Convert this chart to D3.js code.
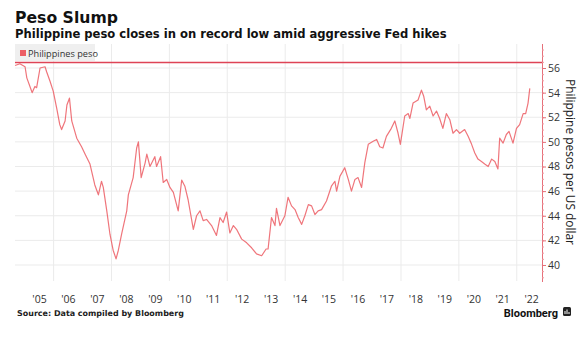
<!DOCTYPE html>
<html lang="en">
<head>
<meta charset="UTF-8">
<title>Peso Slump</title>
<script src="https://d3js.org/d3.v7.min.js"></script>
<style>
  body { margin: 0; background: #fff; }
  svg { display: block; font-family: "Open Sans", "Noto Sans", sans-serif; }
</style>
</head>
<body>
<div id="chart"></div>
<script>
// USD/PHP readings, roughly every month or so
const dates = [
  "2004-09-02","2004-11-01","2005-01-06","2005-01-28","2005-03-20","2005-04-05","2005-05-10","2005-06-01",
  "2005-07-14","2005-09-15","2005-10-05","2005-11-18","2005-12-28","2006-02-10","2006-03-20","2006-04-12",
  "2006-05-26","2006-06-18","2006-07-20","2006-08-18","2006-10-20","2006-12-20","2007-02-03","2007-04-05",
  "2007-06-05","2007-07-20","2007-08-28","2007-09-20","2007-11-03","2007-12-13","2008-01-22","2008-02-28",
  "2008-03-28","2008-05-08","2008-07-12","2008-08-01","2008-10-01","2008-11-14","2008-12-06","2009-01-10",
  "2009-03-01","2009-03-22","2009-05-01","2009-07-01","2009-07-23","2009-09-12","2009-10-15","2009-11-28",
  "2010-01-08","2010-02-20","2010-04-22","2010-06-05","2010-07-15","2010-08-25","2010-10-30","2010-12-10",
  "2011-01-22","2011-03-03","2011-04-15","2011-06-17","2011-08-18","2011-10-01","2011-11-10","2011-12-24",
  "2012-02-03","2012-03-18","2012-04-27","2012-07-01","2012-09-02","2012-11-03","2013-01-04","2013-03-10",
  "2013-05-05","2013-05-30","2013-07-12","2013-08-25","2013-09-13","2013-10-27","2013-12-28","2014-02-06",
  "2014-03-22","2014-05-05","2014-06-14","2014-07-28","2014-09-06","2014-10-20","2014-11-30","2015-01-11",
  "2015-02-21","2015-04-05","2015-06-06","2015-08-07","2015-09-20","2015-10-12","2015-11-22","2016-01-22",
  "2016-03-07","2016-04-16","2016-05-30","2016-07-08","2016-08-22","2016-10-01","2016-11-14","2017-01-15",
  "2017-02-28","2017-04-08","2017-05-18","2017-07-01","2017-09-01","2017-10-15","2017-11-25","2017-12-24",
  "2018-02-17","2018-04-02","2018-04-23","2018-06-02","2018-08-04","2018-09-16","2018-10-15","2018-11-17",
  "2018-12-30","2019-02-10","2019-03-25","2019-05-04","2019-06-13","2019-07-27","2019-09-09","2019-10-19",
  "2019-12-02","2020-01-12","2020-03-14","2020-04-27","2020-06-10","2020-07-20","2020-08-29","2020-10-12",
  "2020-11-22","2021-01-05","2021-02-18","2021-03-30","2021-05-08","2021-05-30","2021-07-12","2021-08-22",
  "2021-09-25","2021-11-14","2021-12-28","2022-02-06","2022-03-22","2022-04-23","2022-05-23","2022-06-14"
];
const pesos = [
  56.2, 56.35, 56.1, 55.2, 54.3, 54.0, 54.5, 54.4,
  56.0, 56.1, 55.7, 54.9, 54.1, 52.7, 51.4, 51.0,
  51.7, 53.0, 53.55, 51.7, 50.3, 49.6, 49.0, 48.2,
  46.5, 45.7, 46.8, 46.3, 44.4, 42.5, 41.2, 40.5,
  41.2, 42.5, 44.4, 45.7, 47.1, 49.5, 50.0, 47.1,
  48.3, 49.0, 48.0, 48.8, 48.0, 48.8, 46.7, 46.95,
  46.3, 45.9, 44.4, 46.9, 46.4, 45.3, 42.9, 44.0,
  44.4, 43.6, 43.7, 43.2, 42.4, 43.85, 43.45, 44.3,
  42.6, 43.2, 42.9, 42.1, 41.8, 41.4, 40.9, 40.75,
  41.3, 41.3, 43.85, 43.2, 44.6, 43.2, 44.0, 45.5,
  44.8, 44.5, 43.85, 43.3, 44.0, 44.9, 44.8, 44.1,
  44.4, 44.5, 45.2, 46.4, 46.8, 46.0, 47.2, 47.9,
  46.95, 46.0, 46.95, 47.1, 46.3, 48.3, 49.8, 50.05,
  50.2, 49.6, 49.5, 50.45, 51.1, 51.7, 50.7, 49.8,
  52.1, 52.3, 51.9, 53.15, 53.4, 54.2, 53.7, 52.6,
  52.9, 52.1, 52.5, 51.9, 51.1, 52.3, 51.8, 50.7,
  51.0, 50.7, 51.0, 50.45, 49.8, 49.1, 48.6, 48.4,
  48.2, 48.0, 48.6, 48.4, 47.8, 50.3, 49.9, 50.6,
  50.85, 49.9, 51.1, 51.4, 52.3, 52.3, 53.15, 54.35
];
const yearLabels = d3.range(2005, 2023);
const gridYears = d3.range(2006, 2023, 2);
const pesoTicks = d3.range(40, 57, 2);
const recordLow = 56.45;
const seriesName = "Philippines peso";

const width = 588, height = 339;
const plot = { left: 15, right: 542, top: 44, bottom: 281 };
const red = "#ec5d64";

const svg = d3.select("#chart").append("svg")
    .attr("width", width)
    .attr("height", height);

const parse = d3.utcParse("%Y-%m-%d");
const data = dates.map((d, i) => ({ date: parse(d), value: pesos[i] }));

const x = d3.scaleUtc()
    .domain([parse("2004-09-01"), parse("2022-11-15")])
    .range([plot.left, plot.right]);

const y = d3.scaleLinear()
    .domain([38.7, 57.95])
    .range([plot.bottom, plot.top]);

// shrink/grow a text so it spans a given width
function fitText(sel, target) {
    const w = sel.node().getComputedTextLength();
    const fs = parseFloat(sel.attr("font-size"));
    sel.attr("font-size", fs * target / w);
}

// titles
svg.append("text")
    .attr("x", 15).attr("y", 23)
    .attr("font-family", "DejaVu Sans")
    .attr("font-weight", "bold")
    .attr("font-size", 17)
    .attr("fill", "#111")
    .text("Peso Slump")
    .call(fitText, 103);

svg.append("text")
    .attr("x", 15).attr("y", 38)
    .attr("font-family", "DejaVu Sans")
    .attr("font-weight", "bold")
    .attr("font-size", 12)
    .attr("fill", "#111")
    .text("Philippine peso closes in on record low amid aggressive Fed hikes")
    .call(fitText, 432);

// gridlines
svg.append("g")
    .selectAll("line")
    .data(gridYears)
    .join("line")
    .attr("x1", d => x(new Date(Date.UTC(d, 0, 1))))
    .attr("x2", d => x(new Date(Date.UTC(d, 0, 1))))
    .attr("y1", plot.top)
    .attr("y2", plot.bottom)
    .attr("stroke", "#ebebeb");

svg.append("g")
    .selectAll("line")
    .data(pesoTicks)
    .join("line")
    .attr("x1", plot.left)
    .attr("x2", plot.right)
    .attr("y1", d => y(d))
    .attr("y2", d => y(d))
    .attr("stroke", "#ebebeb");

// legend
const legend = svg.append("g");
legend.append("rect")
    .attr("x", 15).attr("y", 44)
    .attr("width", 80).attr("height", 17)
    .attr("fill", "#efefef");
legend.append("rect")
    .attr("x", 20).attr("y", 50)
    .attr("width", 6).attr("height", 6)
    .attr("fill", red);
legend.append("text")
    .attr("x", 28).attr("y", 56.5)
    .attr("font-size", 9.2)
    .attr("fill", "#333")
    .text(seriesName);

// record low reference line
svg.append("line")
    .attr("x1", plot.left).attr("x2", plot.right)
    .attr("y1", y(recordLow)).attr("y2", y(recordLow))
    .attr("stroke", "#de4456")
    .attr("stroke-width", 1.5);

// the series
svg.append("path")
    .datum(data)
    .attr("fill", "none")
    .attr("stroke", red)
    .attr("stroke-opacity", 0.85)
    .attr("stroke-width", 1.2)
    .attr("stroke-linejoin", "round")
    .attr("d", d3.line().x(d => x(d.date)).y(d => y(d.value)));

// year labels sit mid-year
const xAxis = svg.append("g")
    .attr("transform", `translate(0,${plot.bottom + 12})`)
    .call(d3.axisBottom(x)
        .tickValues(yearLabels.map(yr => new Date(Date.UTC(yr, 6, 1))))
        .tickFormat(d3.utcFormat("'%y"))
        .tickSize(0));
xAxis.select(".domain").remove();
xAxis.selectAll("text")
    .attr("font-family", "Open Sans")
    .attr("font-size", 10.5)
    .attr("fill", "#333");

// right axis: minor ticks, then labelled ticks
const minor = svg.append("g")
    .attr("transform", `translate(${plot.right},0)`)
    .call(d3.axisRight(y)
        .tickValues(d3.range(39, 58, 0.5))
        .tickSize(2)
        .tickFormat(""));
minor.select(".domain").attr("stroke", "#e6707a").attr("d", `M0.5,${plot.top}V${plot.bottom + 1}`);
minor.selectAll(".tick line").attr("stroke", "#ef9aa0");

const yAxis = svg.append("g")
    .attr("transform", `translate(${plot.right},0)`)
    .call(d3.axisRight(y)
        .tickValues(pesoTicks)
        .tickSize(4)
        .tickPadding(2)
        .tickFormat(d3.format("d")));
yAxis.select(".domain").remove();
yAxis.selectAll(".tick line").attr("stroke", "#e6707a");
yAxis.selectAll("text")
    .attr("font-family", "Open Sans")
    .attr("font-size", 10.5)
    .attr("fill", "#333");

svg.append("text")
    .attr("transform", "translate(566,162) rotate(90)")
    .attr("text-anchor", "middle")
    .attr("font-family", "Open Sans")
    .attr("font-size", 12.5)
    .attr("fill", "#222")
    .text("Philippine pesos per US dollar")
    .call(fitText, 166);

// footer
svg.append("text")
    .attr("x", 17).attr("y", 316)
    .attr("font-family", "DejaVu Sans")
    .attr("font-weight", "bold")
    .attr("font-size", 8)
    .attr("fill", "#222")
    .text("Source: Data compiled by Bloomberg")
    .call(fitText, 167);

svg.append("text")
    .attr("x", 558).attr("y", 316.5)
    .attr("text-anchor", "end")
    .attr("font-family", "Roboto")
    .attr("font-weight", "bold")
    .attr("font-size", 11)
    .attr("fill", "#111")
    .text("Bloomberg");

const logo = svg.append("g").attr("transform", "translate(563,307)");
logo.append("rect")
    .attr("width", 8).attr("height", 9)
    .attr("rx", 1.5)
    .attr("fill", "#222");
logo.append("path")
    .attr("d", "M2,7V4M4,7V2.5M6,7V5")
    .attr("stroke", "#fff")
    .attr("stroke-width", 1);
</script>
</body>
</html>
